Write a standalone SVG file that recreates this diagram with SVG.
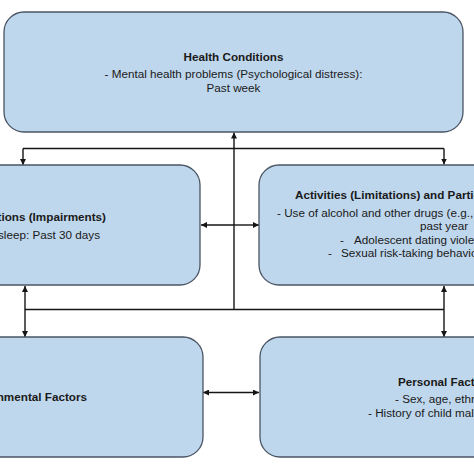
<svg xmlns="http://www.w3.org/2000/svg" width="474" height="474" viewBox="0 0 474 474">
<defs>
<style>
.box{fill:#bfd7ed;stroke:#4a5563;stroke-width:1.3}
.ln{fill:none;stroke:#151515;stroke-width:1.4}
text{font-family:"Liberation Sans",Arial,sans-serif;font-size:11.7px;fill:#1a1a1a}
.t{font-weight:bold}
.c{text-anchor:middle}
.e{text-anchor:end}
</style>
<marker id="ah" viewBox="0 0 10 10" refX="10" refY="5" markerWidth="6" markerHeight="6" markerUnits="userSpaceOnUse" orient="auto-start-reverse">
<path d="M0,0 L10,5 L0,10 Z" fill="#151515"/>
</marker>
</defs>
<rect width="474" height="474" fill="#ffffff"/>
<g id="connectors">
<path class="ln" d="M234,309.5 V132.5" marker-end="url(#ah)"/>
<path class="ln" d="M23,148.5 H444"/>
<path class="ln" d="M23,148.5 V165" marker-end="url(#ah)"/>
<path class="ln" d="M444,148.5 V164.5" marker-end="url(#ah)"/>
<path class="ln" d="M234,225 H201" marker-end="url(#ah)"/>
<path class="ln" d="M234,225 H259" marker-end="url(#ah)"/>
<path class="ln" d="M25,309.5 H444"/>
<path class="ln" d="M25,286 V337" marker-start="url(#ah)" marker-end="url(#ah)"/>
<path class="ln" d="M444,286 V337" marker-start="url(#ah)" marker-end="url(#ah)"/>
<path class="ln" d="M203,392.5 H259" marker-start="url(#ah)" marker-end="url(#ah)"/>
</g>
<g id="health-conditions">
<rect class="box" x="4" y="12" width="459" height="120" rx="20"/>
<text class="t c" x="233.5" y="61">Health Conditions</text>
<text class="c" x="233.5" y="78">- Mental health problems (Psychological distress):</text>
<text class="c" x="233.5" y="91.5">Past week</text>
</g>
<g id="body-functions">
<rect class="box" x="-40" y="165" width="240" height="120" rx="20"/>
<text class="t e" x="106" y="221">tions (Impairments)</text>
<text class="e" x="100" y="239">sleep: Past 30 days</text>
</g>
<g id="activities">
<rect class="box" x="259" y="165" width="260" height="120" rx="20"/>
<text class="t" x="295" y="199.3">Activities (Limitations) and Partic</text>
<text x="277" y="216.7">- Use of alcohol and other drugs (e.g.,</text>
<text x="420" y="229.5">past year</text>
<text y="244"><tspan x="340">-</tspan><tspan x="354">Adolescent dating viole</tspan></text>
<text y="256.7"><tspan x="328">-</tspan><tspan x="341">Sexual risk-taking behavio</tspan></text>
</g>
<g id="environmental-factors">
<rect class="box" x="-40" y="337" width="243" height="120" rx="20"/>
<text class="t e" x="87" y="401">nmental Factors</text>
</g>
<g id="personal-factors">
<rect class="box" x="260" y="337" width="260" height="120" rx="20"/>
<text class="t" x="398" y="385.7">Personal Fact</text>
<text x="395" y="403">- Sex, age, ethn</text>
<text x="368" y="416.7">- History of child mal</text>
</g>
</svg>
